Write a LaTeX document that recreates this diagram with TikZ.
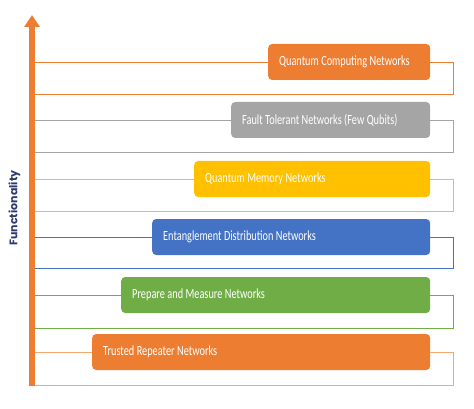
\documentclass[tikz,border=0pt]{standalone}
\usepackage{fontspec}
\setmainfont{Carlito}
\newfontfamily\axisfont{Poppins}
\usetikzlibrary{arrows.meta}
\definecolor{corange}{HTML}{ED7D31}
\definecolor{cgray}{HTML}{A5A5A5}
\definecolor{cyellow}{HTML}{FFC000}
\definecolor{cblue}{HTML}{4472C4}
\definecolor{cgreen}{HTML}{70AD47}
\definecolor{cnavy}{HTML}{2B3A6E}
\definecolor{lorange}{HTML}{F4A870}
\newcommand{\boxtxt}[1]{\scalebox{0.735}[1]{\fontsize{14}{16}\selectfont #1}}
\begin{document}
\begin{tikzpicture}[x=1pt,y=-1pt,
  levelbox/.style={rounded corners=4pt, draw=none, text=white, anchor=west,
    minimum height=36pt, inner xsep=11pt, inner ysep=0pt, align=left},
  bracket/.style={line width=0.8pt}]
\useasboundingbox (0,0) rectangle (474,409);
% coordinates on the axis and on the right edge
\foreach \n/\y in {1/62,2/120,3/179,4/237,5/295,6/352}{
  \coordinate (a\n) at (33,\y);
  \coordinate (r\n) at (453,\y);
}
\foreach \n/\y in {1/94,2/152,3/211,4/268,5/328,6/385}{
  \coordinate (ab\n) at (30,\y);
  \coordinate (rb\n) at (453,\y);
}
% boxes
\node[levelbox, fill=corange, text width=140pt] (b1) at (268,62) {\boxtxt{Quantum Computing Networks}};
\node[levelbox, fill=cgray, text width=177pt] (b2) at (231,120) {\boxtxt{Fault Tolerant Networks (Few Qubits)}};
\node[levelbox, fill=cyellow, text width=214pt] (b3) at (194,179) {\boxtxt{Quantum Memory Networks}};
\node[levelbox, fill=cblue, text width=256pt] (b4) at (152,237) {\boxtxt{Entanglement Distribution Networks}};
\node[levelbox, fill=cgreen, text width=287pt] (b5) at (121,295) {\boxtxt{Prepare and Measure Networks}};
\node[levelbox, fill=corange, text width=316pt] (b6) at (92,352) {\boxtxt{Trusted Repeater Networks}};
% brackets
\foreach \n/\c in {1/corange,2/cgray,3/cyellow,4/cblue,5/cgreen,6/lorange}{
  \draw[bracket, draw=\c] (a\n) -- (b\n.west);
  \draw[bracket, draw=\c] (b\n.east) -- (r\n) -- (rb\n) -- (ab\n);
}
% axis
\coordinate (axbot) at (32,386);
\coordinate (axtop) at (32,15);
\draw[corange, line width=6pt, -{Triangle[width=15pt,length=12pt]}] (axbot) -- (axtop);
\node[rotate=90, text=cnavy, font=\axisfont\bfseries\fontsize{11}{13}\selectfont] (lab) at (14.5,208) {Functionality};
\end{tikzpicture}
\end{document}
